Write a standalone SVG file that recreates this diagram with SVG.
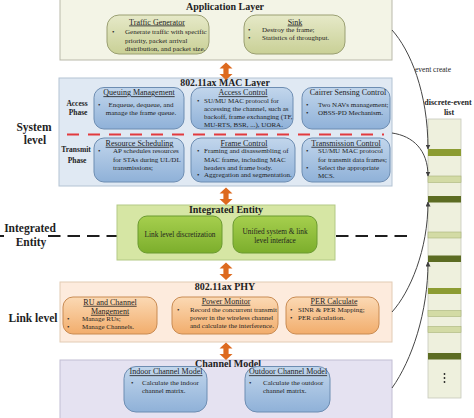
<svg xmlns="http://www.w3.org/2000/svg" width="474" height="418" viewBox="0 0 474 418">
<defs>
<linearGradient id="gOlive" x1="0" y1="0" x2="0" y2="1"><stop offset="0" stop-color="#e6e9c8"/><stop offset="1" stop-color="#c9d096"/></linearGradient>
<linearGradient id="gBlue" x1="0" y1="0" x2="0" y2="1"><stop offset="0" stop-color="#c2d6ec"/><stop offset="1" stop-color="#8fb1d8"/></linearGradient>
<linearGradient id="gGreen" x1="0" y1="0" x2="0" y2="1"><stop offset="0" stop-color="#a6cf4e"/><stop offset="1" stop-color="#7cae2c"/></linearGradient>
<linearGradient id="gOrange" x1="0" y1="0" x2="0" y2="1"><stop offset="0" stop-color="#fbd9b4"/><stop offset="1" stop-color="#f2ad6c"/></linearGradient>
<polygon id="dbl" points="0,0 6.5,6 2.6,6 2.6,11.5 6.5,11.5 0,17.5 -6.5,11.5 -2.6,11.5 -2.6,6 -6.5,6" fill="#dd6a1f"/>
<marker id="ah" viewBox="0 0 10 10" refX="9" refY="5" markerWidth="5" markerHeight="5" orient="auto" markerUnits="userSpaceOnUse"><path d="M0,0 L10,5 L0,10 z" fill="#404040"/></marker>
</defs>
<style>
text{font-family:"Liberation Serif","Times New Roman",serif;fill:#1e1e1e}
.lt{font-size:10px;font-weight:bold;text-anchor:middle}
.side{font-size:11.5px;font-weight:bold;text-anchor:middle}
.ph{font-size:7.5px;font-weight:bold;text-anchor:middle}
.tt{font-size:8px;text-anchor:middle;text-decoration:underline}
.tn{font-size:8px;text-anchor:middle}
.b{font-size:7px}
.bc{font-size:7px;text-anchor:middle}
.app{fill:#f3f4e6;stroke:#b9b9aa;stroke-width:1}
.mac{fill:#e0e9f3;stroke:#b4c3d3;stroke-width:1}
.ie{fill:#d6e6a4;stroke:#b3c985;stroke-width:1}
.phy{fill:#fdebdd;stroke:#e2cbb4;stroke-width:1}
.ch{fill:#e5e2f1;stroke:#c2bed3;stroke-width:1}
.io{fill:url(#gOlive);stroke:#9a9f72;stroke-width:1}
.ib{fill:url(#gBlue);stroke:#6d8db2;stroke-width:1}
.ig{fill:url(#gGreen);stroke:#6b9a30;stroke-width:1}
.ior{fill:url(#gOrange);stroke:#c98b52;stroke-width:1}
.cv{fill:none;stroke:#454545;stroke-width:1;marker-end:url(#ah)}
.st1{fill:#8c9c32}
.st2{fill:#d3dba5;stroke:#a9b47a;stroke-width:0.6}
.st3{fill:#5c6c22}
</style>

<!-- side labels -->
<g id="labels">
<text class="side" x="34" y="131">System</text>
<text class="side" x="35" y="144">level</text>
<text class="side" x="30" y="232">Integrated</text>
<text class="side" x="31" y="246">Entity</text>
<text class="side" x="33" y="322">Link level</text>
</g>

<!-- integrated entity dashed line -->
<g id="divider" stroke="#1e1e1e" stroke-width="2">
<line x1="0" y1="236" x2="4" y2="236"/>
<line x1="48" y1="236" x2="117" y2="236" stroke-dasharray="12.5 7"/>
<line x1="336" y1="236" x2="413" y2="236" stroke-dasharray="12.5 7"/>
</g>

<g id="application-layer">
<rect class="app" x="60" y="-1" width="332" height="61"/>
<text class="lt" x="225" y="10">Application Layer</text>
</g>
<g id="traffic-generator">
<rect class="io" x="107" y="15" width="102" height="39" rx="12"/>
<text class="tt" x="157" y="24.5">Traffic Generator</text>
<text class="b" x="112" y="34">•</text>
<text class="b" x="125" y="34">Generate traffic with specific</text>
<text class="b" x="125" y="42.7">priority, packet arrival</text>
<text class="b" x="125" y="51">distribution, and packet size.</text>
</g>
<g id="sink">
<rect class="io" x="244" y="15" width="101" height="39" rx="12"/>
<text class="tt" x="295" y="24.5">Sink</text>
<text class="b" x="248" y="31.7">•</text>
<text class="b" x="262" y="31.7">Destroy the frame;</text>
<text class="b" x="248" y="39.7">•</text>
<text class="b" x="262" y="39.7">Statistics of throughput.</text>
</g>

<g id="mac-layer">
<rect class="mac" x="59" y="78" width="333" height="108"/>
<text class="lt" x="225" y="86.3" style="font-size:9.8px">802.11ax MAC Layer</text>
<text class="ph" x="77" y="105.7">Access</text>
<text class="ph" x="78" y="114.7">Phase</text>
<text class="ph" x="76" y="151.7">Transmit</text>
<text class="ph" x="77" y="162.7">Phase</text>
<line x1="67" y1="134.5" x2="384" y2="134.5" stroke="#e23a3e" stroke-width="2" stroke-dasharray="12 9"/>
</g>
<g id="queuing-management">
<rect class="ib" x="94" y="87.5" width="90" height="41.5" rx="10"/>
<text class="tt" x="139" y="95.3">Queuing Management</text>
<text class="b" x="98" y="106.5">•</text>
<text class="bc" x="141" y="106.5">Enqueue, dequeue, and</text>
<text class="bc" x="141" y="114.5">manage the frame queue.</text>
</g>
<g id="access-control">
<rect class="ib" x="191" y="87.5" width="102" height="41.5" rx="10"/>
<text class="tt" x="243" y="95.3">Access Control</text>
<text class="b" x="197" y="102.6">•</text>
<text class="b" x="204" y="102.6">SU/MU MAC protocol for</text>
<text class="b" x="204" y="110.6">accessing the channel, such as</text>
<text class="b" x="204" y="118.8">backoff, frame exchanging (TF,</text>
<text class="b" x="204" y="127.2">MU-RTS, BSR, ...), UORA.</text>
</g>
<g id="carrier-sensing-control">
<rect class="ib" x="302" y="87.5" width="88" height="41.5" rx="10"/>
<text class="tn" x="348" y="95.3">Cairrer Sensing Control</text>
<text class="b" x="306" y="106.5">•</text>
<text class="b" x="318" y="106.5">Two NAVs management;</text>
<text class="b" x="306" y="114.5">•</text>
<text class="b" x="318" y="114.5">OBSS-PD Mechanism.</text>
</g>
<g id="resource-scheduling">
<rect class="ib" x="94" y="138" width="90" height="44" rx="10"/>
<text class="tt" x="139.5" y="145.8">Resource Scheduling</text>
<text class="b" x="98" y="153.4">•</text>
<text class="b" x="113" y="153.4">AP schedules resources</text>
<text class="b" x="113" y="161.7">for STAs during UL/DL</text>
<text class="b" x="113" y="169.8">transmissions;</text>
</g>
<g id="frame-control">
<rect class="ib" x="191" y="138" width="104" height="44" rx="10"/>
<text class="tt" x="244" y="145.8">Frame Control</text>
<text class="b" x="197" y="153.4">•</text>
<text class="b" x="204" y="153.4">Framing and disassembling of</text>
<text class="b" x="204" y="161.7">MAC frame, including MAC</text>
<text class="b" x="204" y="169.8">headers and frame body.</text>
<text class="b" x="197" y="177">•</text>
<text class="b" x="204" y="177">Aggregation and segmentation.</text>
</g>
<g id="transmission-control">
<rect class="ib" x="302" y="138" width="88" height="44" rx="10"/>
<text class="tt" x="346" y="145.8">Transmission Control</text>
<text class="b" x="306" y="153.4">•</text>
<text class="b" x="318" y="153.4">SU/MU MAC protocol</text>
<text class="b" x="318" y="161.7">for transmit data frames;</text>
<text class="b" x="306" y="170">•</text>
<text class="b" x="318" y="170">Select the appropriate</text>
<text class="b" x="318" y="178.4">MCS.</text>
</g>

<g id="integrated-entity">
<rect class="ie" x="117" y="205" width="218" height="55"/>
<text class="lt" x="226" y="213">Integrated Entity</text>
</g>
<g id="link-level-discretization">
<rect class="ig" x="138" y="216" width="84" height="37" rx="9"/>
<text class="bc" x="180" y="236.8" style="font-size:7.3px">Link level discretization</text>
</g>
<g id="unified-interface">
<rect class="ig" x="233" y="216" width="84" height="37" rx="9"/>
<text class="bc" x="275" y="233.6" style="font-size:7.3px">Unified system &amp; link</text>
<text class="bc" x="275" y="242.6" style="font-size:7.3px">level interface</text>
</g>

<g id="phy-layer">
<rect class="phy" x="60" y="282" width="332" height="60"/>
<text class="lt" x="225" y="289.5">802.11ax PHY</text>
</g>
<g id="ru-channel-management">
<rect class="ior" x="63" y="297" width="94" height="37" rx="10"/>
<text class="tt" x="110" y="304.8">RU and Channel</text>
<text class="tt" x="110" y="313.8">Mangement</text>
<text class="b" x="67" y="320.5">•</text>
<text class="b" x="82" y="320.5">Manage RUs;</text>
<text class="b" x="67" y="328.5">•</text>
<text class="b" x="82" y="328.5">Manage Channels.</text>
</g>
<g id="power-monitor">
<rect class="ior" x="172" y="297" width="106" height="37" rx="10"/>
<text class="tt" x="226" y="303.8">Power Monitor</text>
<text class="b" x="177" y="311.5">•</text>
<text class="b" x="190" y="311.5">Record the concurrent transmit</text>
<text class="b" x="190" y="319.7">power in the wireless channel</text>
<text class="b" x="190" y="328.3">and calculate the interference.</text>
</g>
<g id="per-calculate">
<rect class="ior" x="286" y="297" width="93" height="37" rx="10"/>
<text class="tt" x="334" y="303.8">PER Calculate</text>
<text class="b" x="290" y="311.5">•</text>
<text class="b" x="298" y="311.5">SINR &amp; PER Mapping;</text>
<text class="b" x="290" y="319.7">•</text>
<text class="b" x="298" y="319.7">PER calculation.</text>
</g>

<g id="channel-model">
<rect class="ch" x="60" y="360" width="332" height="60"/>
<text class="lt" x="228" y="367">Channel Model</text>
</g>
<g id="indoor-channel-model">
<rect class="ib" x="124" y="366.5" width="83" height="45.5" rx="12"/>
<text class="tt" x="166" y="374.3">Indoor Channel Model</text>
<text class="b" x="131" y="384.5">•</text>
<text class="b" x="142" y="384.5">Calculate the indoor</text>
<text class="b" x="142" y="392.5">channel matrix.</text>
</g>
<g id="outdoor-channel-model">
<rect class="ib" x="245" y="366.5" width="85" height="45.5" rx="12"/>
<text class="tt" x="288" y="374.3">Outdoor Channel Model</text>
<text class="b" x="249" y="384.5">•</text>
<text class="b" x="263" y="384.5">Calculate the outdoor</text>
<text class="b" x="263" y="392.5">channel matrix.</text>
</g>

<g id="event-list">
<rect x="428" y="119" width="33" height="279" fill="#eef0dd" stroke="#c6c8bc" stroke-width="0.8"/>
<rect class="st1" x="428" y="149" width="33" height="7"/>
<rect class="st2" x="428" y="176" width="33" height="6.5"/>
<rect class="st3" x="428" y="196" width="33" height="6.5"/>
<rect class="st2" x="428" y="232" width="33" height="6"/>
<rect class="st3" x="428" y="255.5" width="33" height="6.5"/>
<rect class="st1" x="428" y="288" width="33" height="6"/>
<rect class="st2" x="428" y="310.5" width="33" height="6"/>
<rect class="st2" x="428" y="326.5" width="33" height="6"/>
<rect class="st3" x="428" y="353" width="33" height="6.5"/>
<circle cx="444.5" cy="374" r="0.9" fill="#222"/>
<circle cx="444.5" cy="378" r="0.9" fill="#222"/>
<circle cx="444.5" cy="382" r="0.9" fill="#222"/>
<text x="448" y="104.5" style="font-size:8px;font-weight:bold;text-anchor:middle">discrete-event</text>
<text x="449" y="114.5" style="font-size:8px;font-weight:bold;text-anchor:middle">list</text>
<text x="415" y="71.5" style="font-size:7.5px">event create</text>
</g>

<g id="connectors">
<use href="#dbl" x="226" y="62.5"/>
<use href="#dbl" x="226" y="187.5"/>
<use href="#dbl" x="226" y="262.5"/>
<use href="#dbl" x="226" y="342.5"/>
<path class="cv" d="M392,30 C410,50 428,92 428,149"/>
<path class="cv" d="M392,133 C413,136 428,150 428,176"/>
<path class="cv" d="M392,312 C410,292 428,250 428,202"/>
<path class="cv" d="M392,388 C412,360 428,312 428,262"/>
</g>
</svg>
